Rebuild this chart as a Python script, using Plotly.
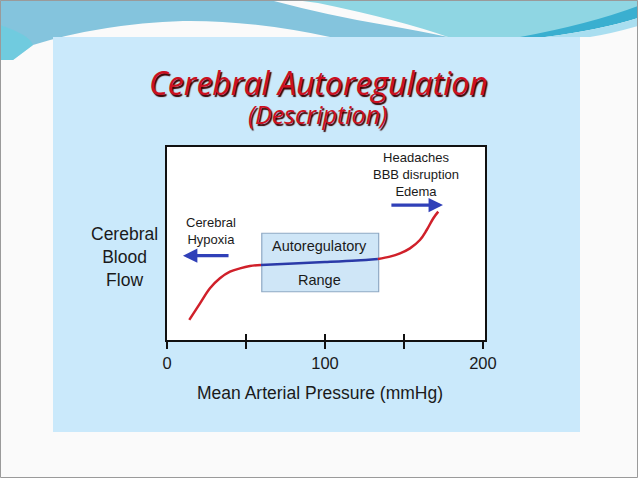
import plotly.graph_objects as go

# ---- data ----
left_x = [14.1, 20.9, 27.2, 33.5, 39.9, 46.2, 52.5, 59.5]
left_y = [10.4, 19.0, 26.8, 32.0, 35.4, 37.1, 38.3, 38.9]
mid_x = [59.5, 80, 100, 120, 133.5]
mid_y = [38.9, 39.7, 40.4, 41.2, 42.0]
right_x = [133.5, 141.1, 147.5, 153.8, 160.1, 164.4, 168.6, 171.7]
right_y = [42.0, 43.2, 44.9, 47.5, 51.8, 57.0, 63.1, 66.5]

range_box_x = [60, 134]
range_box_y = [25.0, 55.3]

tick_vals = [0, 50, 100, 150, 200]
tick_text = ["0", "", "100", "", "200"]

hypoxia_arrow = dict(tail_x=39.9, head_x=10.1, y=43.7)
edema_arrow = dict(tail_x=141.1, head_x=174.7, y=69.9)

W, H = 638, 478
L, R, T, B = 167, 485, 147, 340


def X(px):
    return (px - L) / (R - L)


def Y(py):
    return (B - py) / (B - T)


def path(cmds):
    out = []
    for c in cmds:
        op = c[0]
        pts = c[1:]
        s = op
        for i in range(0, len(pts), 2):
            s += " %.4f,%.4f" % (X(pts[i]), Y(pts[i + 1]))
        out.append(s)
    return " ".join(out) + " Z"


RED = "#d0202a"
BLUE = "#2b3aa8"
TXT = "#1a1a1a"

fig = go.Figure()
fig.add_trace(go.Scatter(x=left_x, y=left_y, mode="lines", line=dict(color=RED, width=2.5, shape="spline"), hoverinfo="skip"))
fig.add_trace(go.Scatter(x=mid_x, y=mid_y, mode="lines", line=dict(color=BLUE, width=2.5, shape="spline"), hoverinfo="skip"))
fig.add_trace(go.Scatter(x=right_x, y=right_y, mode="lines", line=dict(color=RED, width=2.5, shape="spline"), hoverinfo="skip"))
# dummy trace for the secondary axis (inner tick marks)
fig.add_trace(go.Scatter(x=[0], y=[0], xaxis="x2", mode="markers", marker=dict(opacity=0), hoverinfo="skip", showlegend=False))

shapes = []
# decorative slide waves (top)
shapes.append(dict(type="path", xref="paper", yref="paper", layer="below", line=dict(width=0), fillcolor="#84c4dd",
                   path=path([("M", 0, 0), ("L", 270, 0), ("Q", 330, 16, 385, 25), ("Q", 420, 31, 448, 37),
                              ("L", 330, 37), ("Q", 250, 20, 183, 21), ("Q", 100, 24, 33, 45), ("L", 13, 60), ("L", 0, 60)])))
shapes.append(dict(type="path", xref="paper", yref="paper", layer="below", line=dict(width=0), fillcolor="#68cfe0", opacity=0.7,
                   path=path([("M", 0, 25), ("Q", 30, 35, 33, 45), ("L", 13, 60), ("L", 0, 60)])))
shapes.append(dict(type="path", xref="paper", yref="paper", layer="below", line=dict(width=0), fillcolor="#8fd6e3",
                   path=path([("M", 295, 0), ("L", 638, 0), ("L", 638, 8), ("Q", 590, 25, 525, 37), ("L", 448, 37),
                              ("Q", 400, 20, 318, 3)])))
shapes.append(dict(type="path", xref="paper", yref="paper", layer="below", line=dict(width=0), fillcolor="#3aafd0",
                   path=path([("M", 520, 37), ("Q", 590, 24, 638, 6), ("L", 638, 18), ("Q", 600, 30, 545, 37)])))
shapes.append(dict(type="path", xref="paper", yref="paper", layer="below", line=dict(width=0), fillcolor="#a9def0",
                   path=path([("M", 545, 37), ("Q", 600, 30, 638, 18), ("L", 638, 26), ("Q", 610, 34, 590, 37)])))
# slide frame
shapes.append(dict(type="rect", xref="paper", yref="paper", layer="below", x0=X(0.5), x1=X(637.5), y0=Y(0.5), y1=Y(477.5),
                   line=dict(color="#9a9a9a", width=1), fillcolor="rgba(0,0,0,0)"))
# light-blue content panel
shapes.append(dict(type="rect", xref="paper", yref="paper", layer="below", x0=X(53), x1=X(580), y0=Y(37), y1=Y(432),
                   line=dict(width=0), fillcolor="#cae9fb"))
# white plot box interior
shapes.append(dict(type="rect", xref="paper", yref="paper", layer="below", x0=0, x1=1, y0=0, y1=1,
                   line=dict(width=0), fillcolor="white"))
# autoregulatory range box
shapes.append(dict(type="rect", xref="x", yref="y", layer="below",
                   x0=range_box_x[0], x1=range_box_x[1], y0=range_box_y[0], y1=range_box_y[1],
                   line=dict(color="#8fa9c4", width=1.2), fillcolor="#cfe6f7"))

C = dict(xanchor="center", yanchor="middle", showarrow=False)
annotations = [
    dict(text="Cerebral Autoregulation", x=X(318), y=Y(83), xref="paper", yref="paper", **C,
         font=dict(family="Open Sans", size=32, color="#cc1020", style="italic", weight=400,
                   shadow="1.5px 1.5px 1px #3a0000")),
    dict(text="(Description)", x=X(317), y=Y(114), xref="paper", yref="paper", **C,
         font=dict(family="Open Sans", size=25, color="#cc1020", style="italic", weight=400,
                   shadow="1.5px 1.5px 1px #3a0000")),
    dict(text="Cerebral<br>Blood<br>Flow", x=X(124), y=Y(257), xref="paper", yref="paper", **C,
         font=dict(family="Liberation Sans", size=17.5, color=TXT)),
    dict(text="Mean Arterial Pressure (mmHg)", x=X(320), y=Y(393), xref="paper", yref="paper", **C,
         font=dict(family="Liberation Sans", size=17.5, color=TXT)),
    dict(text="Cerebral<br>Hypoxia", x=27.8, y=56.5, xref="x", yref="y", **C,
         font=dict(family="Liberation Sans", size=13, color=TXT)),
    dict(text="Headaches<br>BBB disruption<br>Edema", x=157.6, y=85.5, xref="x", yref="y", **C,
         font=dict(family="Liberation Sans", size=13, color=TXT)),
    dict(text="Autoregulatory", x=96.8, y=48.7, xref="x", yref="y", **C,
         font=dict(family="Liberation Sans", size=14.5, color=TXT)),
    dict(text="Range", x=96.8, y=31.1, xref="x", yref="y", **C,
         font=dict(family="Liberation Sans", size=14.5, color=TXT)),
    dict(text="", x=hypoxia_arrow["head_x"], y=hypoxia_arrow["y"], ax=hypoxia_arrow["tail_x"], ay=hypoxia_arrow["y"],
         xref="x", yref="y", axref="x", ayref="y", showarrow=True, arrowhead=2, arrowsize=0.9, arrowwidth=3.2,
         arrowcolor="#3040b8"),
    dict(text="", x=edema_arrow["head_x"], y=edema_arrow["y"], ax=edema_arrow["tail_x"], ay=edema_arrow["y"],
         xref="x", yref="y", axref="x", ayref="y", showarrow=True, arrowhead=2, arrowsize=0.9, arrowwidth=3.2,
         arrowcolor="#3040b8"),
]

fig.update_layout(
    width=W, height=H,
    margin=dict(l=L, r=W - R, t=T, b=H - B, pad=0),
    paper_bgcolor="#fafafa",
    plot_bgcolor="rgba(0,0,0,0)",
    showlegend=False,
    shapes=shapes,
    annotations=annotations,
    xaxis=dict(range=[0, 201.3], tickvals=tick_vals, ticktext=tick_text, ticks="outside", ticklen=7,
               tickwidth=1.5, tickcolor="#111", showgrid=False, zeroline=False, showline=True,
               linecolor="#111", linewidth=2, mirror=True,
               tickfont=dict(family="Liberation Sans", size=16.5, color=TXT)),
    xaxis2=dict(range=[0, 201.3], overlaying="x", side="bottom", tickvals=tick_vals[1:-1], ticks="inside",
                ticklen=6, tickwidth=1.5, tickcolor="#111", showticklabels=False, showgrid=False,
                zeroline=False, showline=False),
    yaxis=dict(range=[0, 100], showticklabels=False, ticks="", showgrid=False, zeroline=False,
               showline=True, linecolor="#111", linewidth=2, mirror=True),
)

fig.write_html("out.html")
